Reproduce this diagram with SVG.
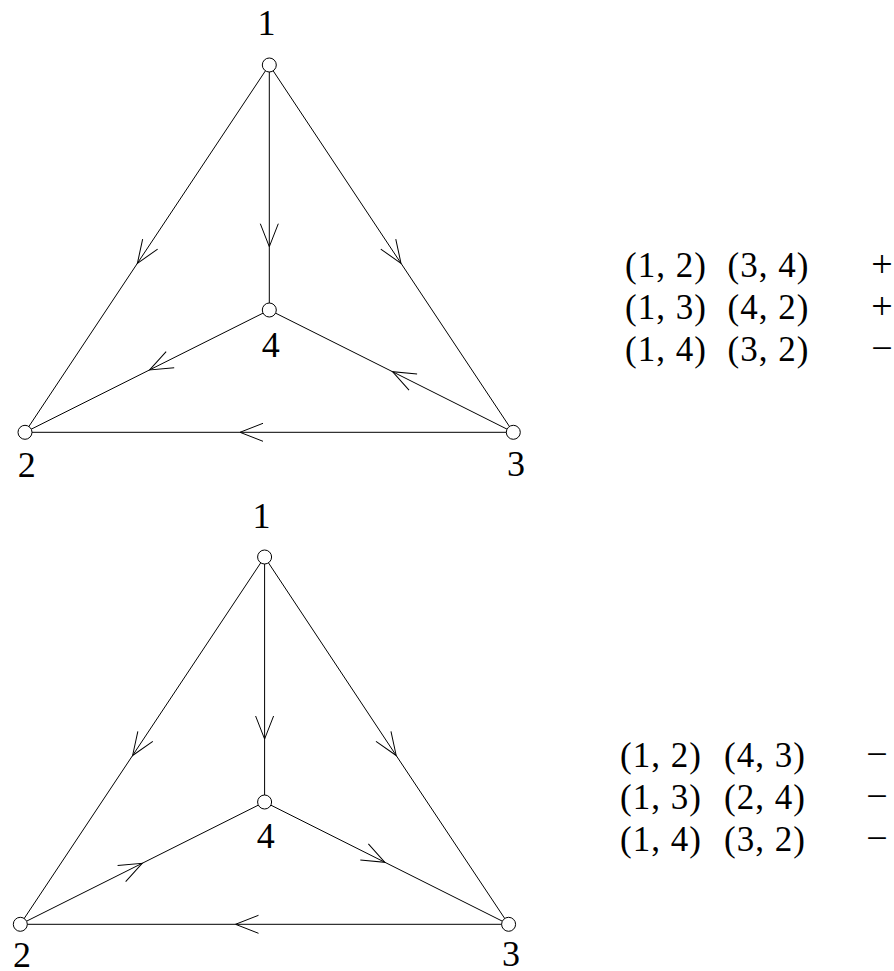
<svg xmlns="http://www.w3.org/2000/svg" width="894" height="971" viewBox="0 0 894 971">
<style>
.edge{fill:none;stroke:#000;stroke-width:1;marker-mid:url(#arr)}
.node{fill:#fff;stroke:#000;stroke-width:1}
.lbl{font-family:"Liberation Serif","Times New Roman",serif;font-size:36px;fill:#000;text-anchor:middle}
.tbl{font-family:"Liberation Serif","Times New Roman",serif;font-size:35px;fill:#000;letter-spacing:1px}
.sgn{font-family:"Liberation Serif","Times New Roman",serif;font-size:38px;fill:#000;text-anchor:middle}
</style>
<defs>
<marker id="arr" markerUnits="userSpaceOnUse" orient="auto" markerWidth="30" markerHeight="30" refX="0" refY="0" overflow="visible">
<path d="M-23,-9 L0,0 L-23,9" fill="none" stroke="#000" stroke-width="1"/>
</marker>
</defs>
<rect width="894" height="971" fill="#fff"/>
<g id="connectors">
<path class="edge" d="M269.3,65 L137.4,263.3 L25,432.3"/>
<path class="edge" d="M269.3,65 L269.3,246.7 L269.3,310"/>
<path class="edge" d="M269.3,65 L401,263.3 L513.3,432.3"/>
<path class="edge" d="M269.3,310 L149.6,369.9 L25,432.3"/>
<path class="edge" d="M513.3,432.3 L392.5,371.7 L269.3,310"/>
<path class="edge" d="M513.3,432.3 L240,432.3 L25,432.3"/>
<path class="edge" d="M264.6,557 L132.6,755.5 L20.3,924.3"/>
<path class="edge" d="M264.6,557 L264.6,739 L264.6,802"/>
<path class="edge" d="M264.6,557 L396.2,755.5 L508.6,924.3"/>
<path class="edge" d="M20.3,924.3 L142.2,863.3 L264.6,802"/>
<path class="edge" d="M264.6,802 L384.9,862.3 L508.6,924.3"/>
<path class="edge" d="M508.6,924.3 L235.5,924.3 L20.3,924.3"/>
</g>
<g id="top-n1"><circle class="node" cx="269.3" cy="65" r="7"/><text class="lbl" x="266.5" y="35">1</text></g>
<g id="top-n2"><circle class="node" cx="25" cy="432.3" r="7"/><text class="lbl" x="26.7" y="477">2</text></g>
<g id="top-n3"><circle class="node" cx="513.3" cy="432.3" r="7"/><text class="lbl" x="516" y="476">3</text></g>
<g id="top-n4"><circle class="node" cx="269.3" cy="310" r="7"/><text class="lbl" x="270.7" y="356.5">4</text></g>
<g id="bot-n1"><circle class="node" cx="264.6" cy="557" r="7"/><text class="lbl" x="261.5" y="528">1</text></g>
<g id="bot-n2"><circle class="node" cx="20.3" cy="924.3" r="7"/><text class="lbl" x="22" y="967">2</text></g>
<g id="bot-n3"><circle class="node" cx="508.6" cy="924.3" r="7"/><text class="lbl" x="511" y="966">3</text></g>
<g id="bot-n4"><circle class="node" cx="264.6" cy="802" r="7"/><text class="lbl" x="265.8" y="848">4</text></g>
<g id="top-table">
<text class="tbl" x="625" y="277">(1, 2)</text><text class="tbl" x="727.5" y="277">(3, 4)</text><text class="sgn" x="882" y="277">+</text>
<text class="tbl" x="625" y="319">(1, 3)</text><text class="tbl" x="727.5" y="319">(4, 2)</text><text class="sgn" x="882" y="319">+</text>
<text class="tbl" x="625" y="361">(1, 4)</text><text class="tbl" x="727.5" y="361">(3, 2)</text><text class="sgn" x="882" y="361">−</text>
</g>
<g id="bottom-table">
<text class="tbl" x="620" y="767">(1, 2)</text><text class="tbl" x="724" y="767">(4, 3)</text><text class="sgn" x="877" y="767">−</text>
<text class="tbl" x="620" y="809">(1, 3)</text><text class="tbl" x="724" y="809">(2, 4)</text><text class="sgn" x="877" y="809">−</text>
<text class="tbl" x="620" y="851">(1, 4)</text><text class="tbl" x="724" y="851">(3, 2)</text><text class="sgn" x="877" y="851">−</text>
</g>
</svg>
